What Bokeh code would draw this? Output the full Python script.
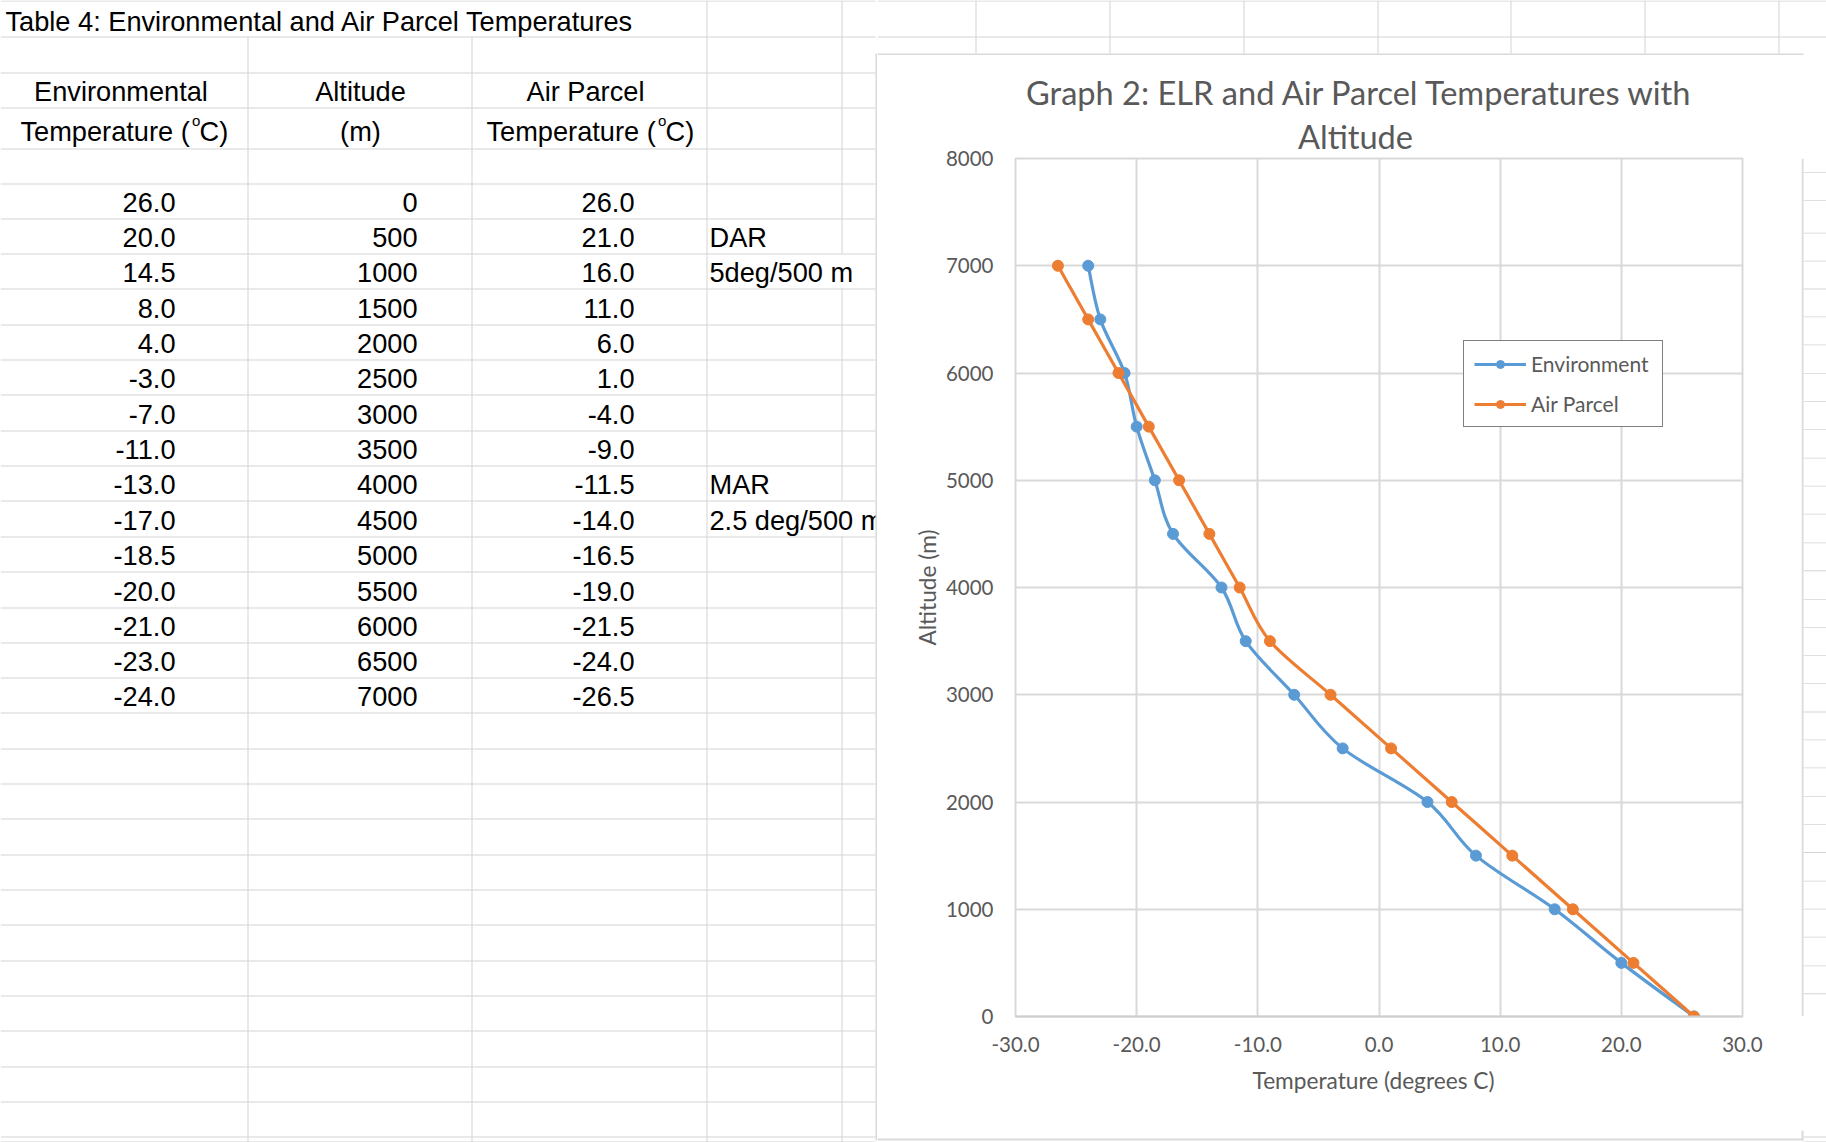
import numpy as np
from bokeh.plotting import figure
from bokeh.models import (Range1d, Legend, LegendItem, FixedTicker, NumeralTickFormatter,
                          ColumnDataSource, Title, Row, Column)
from bokeh.core.properties import value
from bokeh.embed import file_html
from bokeh.resources import INLINE

# ---------------- data ----------------
altitude_m = [0, 500, 1000, 1500, 2000, 2500, 3000, 3500, 4000, 4500, 5000, 5500, 6000, 6500, 7000]
environment_temp = [26.0, 20.0, 14.5, 8.0, 4.0, -3.0, -7.0, -11.0, -13.0, -17.0, -18.5, -20.0, -21.0, -23.0, -24.0]
air_parcel_temp = [26.0, 21.0, 16.0, 11.0, 6.0, 1.0, -4.0, -9.0, -11.5, -14.0, -16.5, -19.0, -21.5, -24.0, -26.5]
lapse_notes = ["", "DAR", "5deg/500 m", "", "", "", "", "", "MAR", "2.5 deg/500 m", "", "", "", "", ""]
series_labels = ["Environment", "Air Parcel"]
x_ticks = [-30, -20, -10, 0, 10, 20, 30]
y_ticks = [0, 1000, 2000, 3000, 4000, 5000, 6000, 7000, 8000]
table_title = "Table 4: Environmental and Air Parcel Temperatures"
header_line1 = ["Environmental", "Altitude", "Air Parcel"]
header_line2 = ["Temperature (", "(m)", "Temperature ("]
chart_title_lines = ["Graph 2: ELR and Air Parcel Temperatures with", "Altitude"]
x_axis_title = "Temperature (degrees C)"
y_axis_title = "Altitude (m)"

# ---------------- geometry / style (canvas px) ----------------
W, H = 1826, 1142
FL, FR, FT, FB = 1015, 1742, 158, 1016            # chart plot frame
BOX_L, BOX_T, BOX_R, BOX_B = 875, 53, 1803, 1140   # chart object box
BW = 2
LX1 = BOX_L + BW       # right edge of left sheet panel
TY1 = BOX_T + BW       # bottom of top strip
RX0 = BOX_R - BW       # left edge of right strip
BY0 = 1130             # top of bottom strip
ROW_LINES = [0, 36, 72, 107, 148, 183, 218, 253, 288, 324, 359, 394, 430, 465, 500,
             536, 571, 607, 642, 677, 712, 748, 783, 818, 854, 889, 924, 960, 995,
             1030, 1066, 1101, 1136]
COL_LINES = [247, 471, 706, 841, 975, 1109, 1243, 1377, 1510, 1644, 1778]
BLUE, ORANGE, GREY_TXT = "#5B9BD5", "#ED7D31", "#595959"
SHEET_LINE, BOX_LINE = "#d4d4d4", "#d9d9d9"
SHEET_FONT, SHEET_SIZE = "Liberation Sans", "27.2px"
CHART_FONT = "Lato"
TITLE_OFFSETS = [10.5, 282.5]   # left offsets of the two title lines from the frame edge
TITLE_STANDOFFS = [1, 5]
XTITLE_OFFSET = 237


def sheet_fig(x0, x1, y0, y1):
    f = figure(width=x1 - x0, height=y1 - y0, output_backend="svg", toolbar_location=None,
               x_range=Range1d(x0, x1), y_range=Range1d(y1, y0),
               x_axis_location=None, y_axis_location=None, title=None, min_border=0,
               background_fill_color="white", border_fill_color="white",
               outline_line_color=None)
    f.grid.visible = False
    return f


def rects(f, boxes, color):
    if not boxes:
        return
    f.quad(left=[b[0] for b in boxes], top=[b[1] for b in boxes],
           right=[b[2] for b in boxes], bottom=[b[3] for b in boxes],
           fill_color=color, line_color=None)


def texts(f, xs, ys, strs, align, size=SHEET_SIZE):
    f.text(x=xs, y=ys, text=strs, text_align=align, text_baseline="middle",
           text_font=value(SHEET_FONT), text_font_size=value(size), text_color="black")


# ---------------- left sheet panel ----------------
lf = sheet_fig(0, LX1, 0, H)
h_boxes = [(0, Y, BOX_L, Y + 1) for Y in ROW_LINES] + [(0, H - 1, BOX_L, H)]
data_row0 = 5
overflow_rows = [i for i, s in enumerate(lapse_notes) if len(s) > 4]
v_boxes = []
for X in COL_LINES:
    if X >= BOX_L:
        continue
    segs = [(36 if X < 600 else 0, H)]
    if X == 841:
        segs, y0 = [], 0
        for i in overflow_rows:
            segs.append((y0, ROW_LINES[data_row0 + i]))
            y0 = ROW_LINES[data_row0 + i + 1]
        segs.append((y0, H))
    v_boxes += [(X, a, X + 1, b) for a, b in segs]
rects(lf, h_boxes + v_boxes, SHEET_LINE)

texts(lf, [5], [20.5], [table_title], "left")
texts(lf, [120.5, 360, 585], [90.8] * 3, header_line1, "center")
x0s = [20, 486]
texts(lf, x0s, [130.8] * 2, [header_line2[0], header_line2[2]], "left")
texts(lf, [x + 171.5 for x in x0s], [119.5] * 2, ["o", "o"], "left", size="15px")
texts(lf, [x + 179 for x in x0s], [130.8] * 2, ["C)", "C)"], "left")
texts(lf, [360], [130.8], [header_line2[1]], "center")

ys = [(ROW_LINES[data_row0 + i] + ROW_LINES[data_row0 + i + 1]) / 2 + 1.5 for i in range(len(altitude_m))]
texts(lf, [175] * len(ys), ys, [f"{v:.1f}" for v in environment_temp], "right")
texts(lf, [417] * len(ys), ys, [str(v) for v in altitude_m], "right")
texts(lf, [634] * len(ys), ys, [f"{v:.1f}" for v in air_parcel_temp], "right")
note_idx = [i for i, s in enumerate(lapse_notes) if s]
texts(lf, [709] * len(note_idx), [ys[i] for i in note_idx], [lapse_notes[i] for i in note_idx], "left")
rects(lf, [(BOX_L, BOX_T, LX1, BOX_B)], BOX_LINE)

# ---------------- top strip ----------------
ts = sheet_fig(LX1, W, 0, TY1)
rects(ts, [(LX1, Y, W, Y + 1) for Y in ROW_LINES if Y < BOX_T] +
      [(X, 0, X + 1, BOX_T) for X in COL_LINES if X >= LX1], SHEET_LINE)
rects(ts, [(LX1, BOX_T, BOX_R, TY1)], BOX_LINE)

# ---------------- right strip ----------------
rs = sheet_fig(RX0, W, TY1, BY0)
rects(rs, [(BOX_R, Y, W, Y + 1) for Y in ROW_LINES if TY1 <= Y < BY0], SHEET_LINE)
rects(rs, [(RX0, TY1, BOX_R, BY0)], BOX_LINE)

# ---------------- bottom strip ----------------
bs = sheet_fig(LX1, W, BY0, H)
rects(bs, [(BOX_R, Y, W, Y + 1) for Y in ROW_LINES + [H - 1] if BY0 <= Y < H], SHEET_LINE)
rects(bs, [(RX0, BY0, BOX_R, BOX_B), (LX1, BOX_B - BW, BOX_R, BOX_B)], BOX_LINE)

# ---------------- chart ----------------
cf = figure(width=RX0 - LX1, height=BY0 - TY1, output_backend="svg", toolbar_location=None,
            x_range=Range1d(-30, 30), y_range=Range1d(0, 8000), title=None,
            min_border_left=FL - LX1, min_border_right=RX0 - FR,
            min_border_top=FT - TY1, min_border_bottom=BY0 - FB,
            background_fill_color="white", border_fill_color="white")

for s, off, so in reversed(list(zip(chart_title_lines, TITLE_OFFSETS, TITLE_STANDOFFS))):
    cf.add_layout(Title(text=s, align="left", offset=off, standoff=so,
                        text_font=CHART_FONT, text_font_size="32.6px",
                        text_font_style="normal", text_color=GREY_TXT), "above")


def smooth(xs, ys):
    pts = np.column_stack([np.asarray(xs, float), np.asarray(ys, float)])
    n = len(pts)
    P0 = pts[[max(i - 1, 0) for i in range(n - 1)]]
    P1, P2 = pts[:-1], pts[1:]
    P3 = pts[[min(i + 2, n - 1) for i in range(n - 1)]]
    C0 = P1 + (P2 - P0) / 6.0
    C1 = P2 - (P3 - P1) / 6.0
    return ColumnDataSource(dict(x0=P1[:, 0], y0=P1[:, 1], x1=P2[:, 0], y1=P2[:, 1],
                                 cx0=C0[:, 0], cy0=C0[:, 1], cx1=C1[:, 0], cy1=C1[:, 1]))


items = []
for temps, color, name in [(environment_temp, BLUE, series_labels[0]),
                           (air_parcel_temp, ORANGE, series_labels[1])]:
    bz = cf.bezier(x0="x0", y0="y0", x1="x1", y1="y1", cx0="cx0", cy0="cy0", cx1="cx1", cy1="cy1",
                   source=smooth(temps, altitude_m), line_color=color, line_width=3.2)
    sc = cf.scatter(temps, altitude_m, size=11, fill_color=color, line_color=color)
    items.append(LegendItem(label=name, renderers=[bz, sc]))

legend = Legend(items=items, location=(1463 - FL, FB - 427), margin=0, padding=10, spacing=15,
                glyph_width=52, glyph_height=20, label_standoff=5, label_width=121,
                border_line_color="black", border_line_width=1.5,
                background_fill_color="white", background_fill_alpha=1.0,
                label_text_font=CHART_FONT, label_text_font_size="21px",
                label_text_color=GREY_TXT)
cf.add_layout(legend)

cf.xgrid.ticker = FixedTicker(ticks=x_ticks)
cf.ygrid.ticker = FixedTicker(ticks=y_ticks)
for g in (cf.xgrid, cf.ygrid):
    g.grid_line_color = BOX_LINE
    g.grid_line_width = 2
cf.outline_line_color = BOX_LINE
cf.outline_line_width = 2

for ax in (cf.xaxis, cf.yaxis):
    ax.major_tick_out = 0
    ax.major_tick_in = 0
    ax.minor_tick_out = 0
    ax.minor_tick_in = 0
    ax.major_label_text_font = CHART_FONT
    ax.major_label_text_font_size = "20.5px"
    ax.major_label_text_color = GREY_TXT
    ax.axis_label_text_font = CHART_FONT
    ax.axis_label_text_font_size = "22.7px"
    ax.axis_label_text_color = GREY_TXT
    ax.axis_label_text_font_style = "normal"

cf.xaxis.ticker = FixedTicker(ticks=x_ticks)
cf.xaxis.formatter = NumeralTickFormatter(format="0.0")
cf.xaxis.axis_line_color = "#cfcfcf"
cf.xaxis.axis_line_width = 2
cf.xaxis.major_label_standoff = 20
cf.add_layout(Title(text=x_axis_title, align="left", offset=XTITLE_OFFSET, standoff=20,
                    text_font=CHART_FONT, text_font_size="22.7px",
                    text_font_style="normal", text_color=GREY_TXT), "below")

cf.yaxis.ticker = FixedTicker(ticks=y_ticks)
cf.yaxis.formatter = NumeralTickFormatter(format="0")
cf.yaxis.axis_label = y_axis_title
cf.yaxis.axis_line_color = None
cf.yaxis.major_label_standoff = 22
cf.yaxis.axis_label_standoff = 2

layout = Row(children=[lf, Column(children=[ts, Row(children=[cf, rs], spacing=0), bs], spacing=0)],
             spacing=0)

open("out.html", "w").write(file_html(layout, INLINE))
